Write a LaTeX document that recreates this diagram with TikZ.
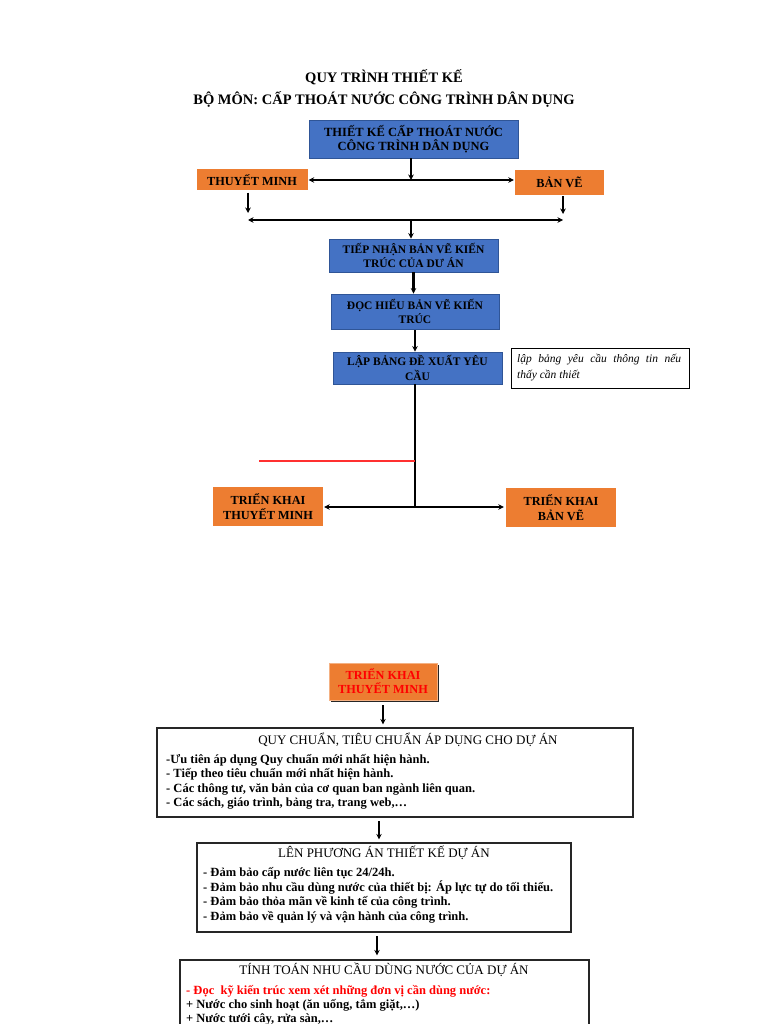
\documentclass[tikz,border=0pt]{standalone}
\usepackage{fontspec}
\setmainfont{Liberation Serif}
\usetikzlibrary{arrows.meta,shadows}
\definecolor{bluefill}{HTML}{4472C4}
\definecolor{blueedge}{HTML}{2F5597}
\definecolor{orfill}{HTML}{ED7D31}
\definecolor{redline}{HTML}{FF3030}
\begin{document}
\begin{tikzpicture}[x=1pt,y=-1pt,
  bluebox/.style={draw=blueedge, fill=bluefill, line width=0.9pt, inner sep=0pt, align=center, text=black},
  orbox/.style={fill=orfill, inner sep=0pt, align=center, text=black},
  plainbox/.style={draw=black!85, line width=1.2pt, fill=white, inner sep=0pt},
  arr/.style={line width=2.3pt, -{Stealth[length=5.5pt,width=5.5pt]}},
  darr/.style={line width=2.3pt, {Stealth[length=5.5pt,width=5.5pt]}-{Stealth[length=5.5pt,width=5.5pt]}},
  ln/.style={anchor=base west, inner sep=0pt, font=\fontsize{12.5}{14}\selectfont\bfseries},
  ttl/.style={anchor=base, inner sep=0pt, font=\fontsize{13}{15}\selectfont},
]
\useasboundingbox (0,0) rectangle (768,1024);
\clip (0,0) rectangle (768,1024);
\fill[white] (0,0) rectangle (768,1024);

% titles
\node[anchor=base, inner sep=0pt, font=\fontsize{14.5}{16}\selectfont\bfseries] (t1) at (384,83) {QUY TRÌNH THIẾT KẾ};
\node[anchor=base, inner sep=0pt, font=\fontsize{14.5}{16}\selectfont\bfseries] (t2) at (384,105) {BỘ MÔN: CẤP THOÁT NƯỚC CÔNG TRÌNH DÂN DỤNG};

% upper chart
\node[bluebox, minimum width=209pt, minimum height=38pt, font=\fontsize{12.5}{14}\selectfont\bfseries] (n1) at (413.5,139) {THIẾT KẾ CẤP THOÁT NƯỚC\\CÔNG TRÌNH DÂN DỤNG};
\node[orbox, minimum width=111pt, minimum height=21pt, font=\fontsize{12.3}{14}\selectfont\bfseries] (tm) at (252,180) {THUYẾT MINH};
\node[orbox, minimum width=89pt, minimum height=25pt, font=\fontsize{12.3}{14}\selectfont\bfseries] (bv) at (559.5,182.5) {BẢN VẼ};

\node[bluebox, minimum width=169pt, minimum height=33pt, font=\fontsize{11.5}{14.5}\selectfont\bfseries] (tn) at (413.5,255.5) {TIẾP NHẬN BẢN VẼ KIẾN\\TRÚC CỦA DƯ ÁN};
\node[bluebox, minimum width=168pt, minimum height=35pt, font=\fontsize{11.5}{14.5}\selectfont\bfseries] (dh) at (415,311.5) {ĐỌC HIỂU BẢN VẼ KIẾN\\TRÚC};
\node[bluebox, minimum width=169pt, minimum height=32pt, font=\fontsize{11.5}{14.5}\selectfont\bfseries] (lb) at (417.5,368) {LẬP BẢNG ĐỀ XUẤT YÊU\\CẦU};
\node[draw=black, line width=0.9pt, fill=white, minimum width=178pt, minimum height=40pt, inner sep=0pt,
      drop shadow={shadow xshift=1pt, shadow yshift=-1pt, fill=black!45, opacity=1}] (nt) at (600,368) {};
\node[anchor=base west, inner sep=0pt, font=\fontsize{11.5}{14}\selectfont\itshape] (nt1) at (517,362) {\makebox[164pt][s]{lập bảng yêu cầu thông tin nếu}};
\node[anchor=base west, inner sep=0pt, font=\fontsize{11.5}{14}\selectfont\itshape] (nt2) at (517,378) {thấy cần thiết};

\node[orbox, minimum width=110pt, minimum height=39pt, font=\fontsize{12.3}{15}\selectfont\bfseries] (tktm) at (268,506.5) {TRIỂN KHAI\\THUYẾT MINH};
\node[orbox, minimum width=110pt, minimum height=39pt, font=\fontsize{12.3}{15}\selectfont\bfseries] (tkbv) at (561,507.5) {TRIỂN KHAI\\BẢN VẼ};

% upper connectors
\coordinate (j1) at (411,180);
\draw[arr] (n1.south -| j1) -- (j1);
\draw[darr, shorten <=1pt, shorten >=1pt] (tm.east) -- (tm.east -| bv.west);
\coordinate (a1) at (248,213);
\coordinate (a2) at (563,214);
\draw[arr, shorten <=2pt] (tm.south -| a1) -- (a1);
\draw[arr, shorten <=1pt] (bv.south -| a2) -- (a2);
\coordinate (hL) at (248,220);
\coordinate (hR) at (563,220);
\draw[darr] (hL) -- (hR);
\coordinate (j2) at (411,220);
\draw[arr] (j2) -- (j2 |- tn.north);
\draw[arr] (tn.south) -- (tn.south |- dh.north);
\draw[arr, shorten <=1pt] (dh.south) -- (dh.south |- lb.north);
\coordinate (j3) at (415,507);
\draw[line width=2.3pt] (j3 |- lb.south) -- (j3);
\coordinate (r1) at (259,461);
\draw[redline, line width=1.8pt] (r1) -- (r1 -| j3);
\draw[darr, shorten <=1pt, shorten >=2pt] (tktm.east |- j3) -- (tkbv.west |- j3);

% lower chart
\node[orbox, draw=orfill!60!white, line width=0.6pt, minimum width=108pt, minimum height=37pt, text=red,
      font=\fontsize{12.3}{14}\selectfont\bfseries,
      drop shadow={shadow xshift=1.6pt, shadow yshift=-1.6pt, fill=black!85, opacity=1}] (tk2) at (383,681.5) {TRIỂN KHAI\\THUYẾT MINH};

\node[plainbox, minimum width=476pt, minimum height=89pt] (qc) at (395,772.5) {};
\node[ttl] (qct) at (408,744) {QUY CHUẨN, TIÊU CHUẨN ÁP DỤNG CHO DỰ ÁN};
\node[ln] (q1) at (166,763) {-Ưu tiên áp dụng Quy chuẩn mới nhất hiện hành.};
\node[ln] (q2) at (166,777.5) {- Tiếp theo tiêu chuẩn mới nhất hiện hành.};
\node[ln] (q3) at (166,792) {- Các thông tư, văn bản của cơ quan ban ngành liên quan.};
\node[ln] (q4) at (166,806.5) {- Các sách, giáo trình, bảng tra, trang web,…};

\node[plainbox, minimum width=374pt, minimum height=89pt] (lp) at (384,887.5) {};
\node[ttl] (lpt) at (384,857.5) {LÊN PHƯƠNG ÁN THIẾT KẾ DỰ ÁN};
\node[ln] (p1) at (203,876) {- Đảm bảo cấp nước liên tục 24/24h.};
\node[ln] (p2) at (203,891) {- Đảm bảo nhu cầu dùng nước của thiết bị: Áp lực tự do tối thiểu.};
\node[ln] (p3) at (203,905) {- Đảm bảo thỏa mãn về kinh tế của công trình.};
\node[ln] (p4) at (203,920) {- Đảm bảo về quản lý và vận hành của công trình.};

\node[plainbox, minimum width=409pt, minimum height=90pt] (tt) at (384.5,1005) {};
\node[ttl] (ttt) at (384,974.5) {TÍNH TOÁN NHU CẦU DÙNG NƯỚC CỦA DỰ ÁN};
\node[ln, text=red] (s1) at (186,994) {- Đọc\ \ kỹ kiến trúc xem xét những đơn vị cần dùng nước:};
\node[ln] (s2) at (186,1008) {+ Nước cho sinh hoạt (ăn uống, tắm giặt,…)};
\node[ln] (s3) at (186,1022) {+ Nước tưới cây, rửa sàn,…};

% lower connectors
\draw[arr, shorten <=5pt, shorten >=3pt] (tk2.south) -- (tk2.south |- qc.north);
\coordinate (b2) at (379,817);
\draw[arr, shorten <=4pt, shorten >=3pt] (b2) -- (b2 |- lp.north);
\coordinate (b3) at (377,932);
\draw[arr, shorten <=4pt, shorten >=4pt] (b3) -- (b3 |- tt.north);
\end{tikzpicture}
\end{document}
